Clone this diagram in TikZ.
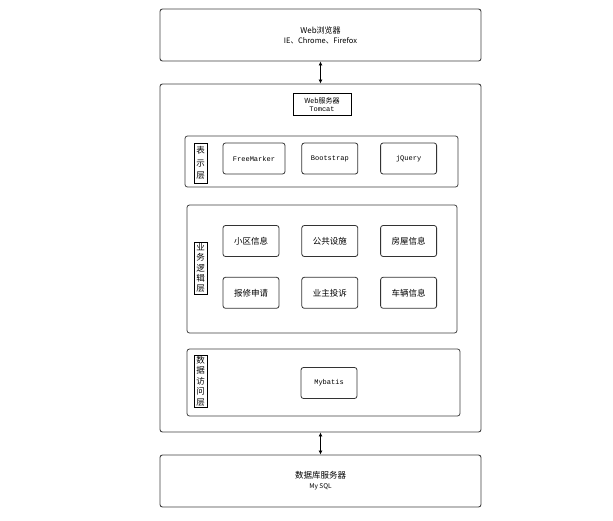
\documentclass[tikz,border=0pt]{standalone}
\usepackage{fontspec}
\setmainfont{Noto Sans CJK SC}
\newfontfamily\monofnt{Liberation Mono}
\usepackage{tikz}
\usetikzlibrary{arrows.meta,positioning}

\begin{document}
\begin{tikzpicture}[
  x=1pt,y=-1pt,
  node distance=20pt and 22pt,
  frame/.style={draw=black!75,line width=0.9pt,rounded corners=2.5pt,fill=white,align=center,font=\fontsize{8}{10}\selectfont},
  layer/.style={draw=black!75,line width=0.8pt,rounded corners=2.5pt},
  item/.style={draw=black!80,line width=0.8pt,rounded corners=2.5pt,minimum width=56pt,minimum height=31pt,inner sep=0pt,font=\fontsize{8.5}{9}\selectfont},
  tag/.style={draw=black,line width=0.6pt,inner sep=0pt,minimum width=13pt,align=center,font=\fontsize{8.5}{10.4}\selectfont},
  arr/.style={{Latex[length=4pt,width=4pt]}-{Latex[length=4pt,width=4pt]},line width=0.9pt,draw=black}
]
\useasboundingbox (0,0) rectangle (613,520);

% outer tiers
\node[frame,minimum width=321pt,minimum height=52pt] (browser) at (320.5,35) {Web浏览器\\{\fontsize{7.5}{9}\selectfont IE、Chrome、Firefox}};
\node[frame,minimum width=321pt,minimum height=348pt] (server) at (320.5,258) {};
\node[frame,minimum width=321pt,minimum height=52pt] (db) at (320.5,481) {{\fontsize{8.5}{10}\selectfont 数据库服务器}\\{\fontsize{6.5}{8}\selectfont My SQL}};
\node[draw=black,line width=0.6pt,minimum width=58pt,minimum height=22pt,inner sep=0pt,align=center,font=\fontsize{7}{8.5}\selectfont] (srvtag) at (322,104.5) {Web服务器\\{\monofnt Tomcat}};

% layers
\draw[layer] (185,136) rectangle (458,187);
\draw[layer] (187,205) rectangle (457,333);
\draw[layer] (187,349) rectangle (460,416);
\node[tag,minimum height=40pt,font=\fontsize{8.5}{12.5}\selectfont] (bsc) at (200.5,163) {表\\示\\层};
\node[tag,minimum height=52pt] (ywc) at (200.5,268) {业\\务\\逻\\辑\\层};
\node[tag,minimum height=52pt] (sjc) at (200.5,381) {数\\据\\访\\问\\层};

% presentation
\node[item,minimum width=62pt] (fm) at (254,158.5) {\monofnt\fontsize{7}{8}\selectfont FreeMarker};
\node[item,right=16pt of fm] (bs) {\monofnt\fontsize{7}{8}\selectfont Bootstrap};
\node[item,right=of bs] (jq) {\monofnt\fontsize{7}{8}\selectfont jQuery};

% business
\node[item] (xqxx) at (251,241) {小区信息};
\node[item,right=of xqxx] (ggss) {公共设施};
\node[item,right=of ggss] (fwxx) {房屋信息};
\node[item,below=of xqxx] (bxsq) {报修申请};
\node[item,right=of bxsq] (yzts) {业主投诉};
\node[item,right=of yzts] (clxx) {车辆信息};

% data access
\node[item] (mb) at (329,383) {\monofnt\fontsize{7}{8}\selectfont Mybatis};

\draw[arr] (browser)--(server);
\draw[arr] (server)--(db);
\end{tikzpicture}
\end{document}
